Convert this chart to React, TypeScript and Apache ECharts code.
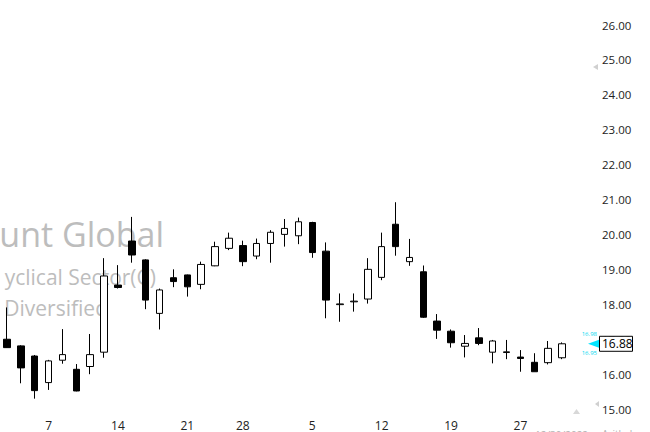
import React, { useEffect, useRef } from "react";
import * as echarts from "echarts";

// trading days shown, Nov 2 - Dec 30 2022
const dates = [
  "2022-11-02", "2022-11-03", "2022-11-04", "2022-11-07", "2022-11-08", "2022-11-09", "2022-11-10",
  "2022-11-11", "2022-11-14", "2022-11-15", "2022-11-16", "2022-11-17", "2022-11-18", "2022-11-21",
  "2022-11-22", "2022-11-23", "2022-11-25", "2022-11-28", "2022-11-29", "2022-11-30", "2022-12-01",
  "2022-12-02", "2022-12-05", "2022-12-06", "2022-12-07", "2022-12-08", "2022-12-09", "2022-12-12",
  "2022-12-13", "2022-12-14", "2022-12-15", "2022-12-16", "2022-12-19", "2022-12-20", "2022-12-21",
  "2022-12-22", "2022-12-23", "2022-12-27", "2022-12-28", "2022-12-29", "2022-12-30",
];

const opens = [
  17.01, 16.82, 16.53, 15.77, 16.41, 16.15, 16.23, 16.64, 18.56, 19.82, 19.28, 17.75, 18.77, 18.85,
  18.58, 19.11, 19.61, 19.69, 19.39, 19.75, 20.01, 19.97, 20.35, 19.53, 18.0, 18.08, 18.16, 18.78,
  20.3, 19.23, 18.94, 17.53, 17.24, 16.81, 17.05, 16.64, 16.63, 16.5, 16.35, 16.34, 16.48,
];
const highs = [
  17.92, 16.84, 16.56, 16.42, 17.3, 16.3, 17.16, 19.33, 19.13, 20.51, 19.3, 18.46, 19.01, 18.86,
  19.23, 19.8, 20.06, 19.83, 19.89, 20.13, 20.45, 20.49, 20.37, 19.78, 18.32, 18.32, 19.33, 20.06,
  20.93, 19.88, 19.12, 17.73, 17.29, 17.13, 17.33, 16.99, 16.99, 16.7, 16.61, 16.96, 16.92,
];
const lows = [
  16.76, 15.75, 15.31, 15.56, 16.31, 15.52, 16.01, 16.48, 18.46, 19.2, 17.87, 17.29, 18.5, 18.23,
  18.44, 19.1, 19.56, 19.1, 19.3, 19.2, 19.66, 19.73, 19.34, 17.61, 17.51, 17.8, 18.03, 18.7,
  19.4, 19.11, 17.62, 17.02, 16.77, 16.49, 16.84, 16.32, 16.44, 16.08, 16.08, 16.29, 16.44,
];
const closes = [
  16.77, 16.19, 15.54, 16.39, 16.57, 15.53, 16.57, 18.82, 18.49, 19.42, 18.13, 18.42, 18.66, 18.51,
  19.15, 19.66, 19.9, 19.23, 19.75, 20.07, 20.18, 20.37, 19.49, 18.13, 18.02, 18.1, 19.01, 19.66,
  19.66, 19.35, 17.64, 17.27, 16.91, 16.89, 16.89, 16.96, 16.65, 16.46, 16.08, 16.75, 16.88,
];

// dates that get a day-number label on the time axis
const tickDates = [
  "2022-11-07", "2022-11-14", "2022-11-21", "2022-11-28",
  "2022-12-05", "2022-12-12", "2022-12-19", "2022-12-27",
];

const watermark = ["unt Global", "yclical Sector(C)", "Diversified"];
const quoteHigh = "16.98";
const quoteLow = "16.95";

const FONT = "'Open Sans', sans-serif";

const App: React.FC = () => {
  const chartRef = useRef<HTMLDivElement>(null);

  useEffect(() => {
    if (!chartRef.current) return;
    const chart = echarts.init(chartRef.current, undefined, { renderer: "svg" });

    const candles = dates.map((_, i) => [opens[i], closes[i], lows[i], highs[i]]);
    const lastClose = closes[closes.length - 1];

    const option: echarts.EChartsOption = {
      animation: false,
      backgroundColor: "#ffffff",
      grid: { left: 0, right: 81, top: 25, bottom: 22.5 },
      xAxis: {
        type: "category",
        data: dates,
        boundaryGap: true,
        axisLine: { show: false },
        axisTick: { show: false },
        splitLine: { show: false },
        axisLabel: {
          interval: (_index: number, value: string) => tickDates.includes(value),
          formatter: (value: string) => String(Number(value.slice(8))),
          color: "#222",
          fontSize: 12,
          fontFamily: FONT,
          margin: 10,
        },
      },
      yAxis: {
        type: "value",
        position: "right",
        min: 15,
        max: 26,
        interval: 1,
        scale: true,
        axisLine: { show: false },
        axisTick: { show: false },
        splitLine: { show: false },
        axisLabel: {
          formatter: (v: number) => v.toFixed(2),
          color: "#222",
          fontSize: 11.5,
          fontFamily: FONT,
          margin: 33,
        },
      },
      series: [
        {
          type: "candlestick",
          data: candles,
          barWidth: 7,
          z: 5,
          itemStyle: {
            color: "#ffffff",
            color0: "#000000",
            borderColor: "#000000",
            borderColor0: "#000000",
            borderWidth: 1,
          },
        },
      ],
    };

    chart.setOption(option);

    const yLast = chart.convertToPixel({ yAxisIndex: 0 }, lastClose) as number;
    const grey = "#bdbdbd";

    chart.setOption({
      graphic: [
        {
          type: "text",
          z: -1,
          style: { text: watermark[0], x: 164, y: 234, align: "right", verticalAlign: "middle", fill: grey, font: `34px ${FONT}` },
        },
        {
          type: "text",
          z: -1,
          style: { text: watermark[1], x: 156, y: 277, align: "right", verticalAlign: "middle", fill: grey, font: `21px ${FONT}` },
        },
        {
          type: "text",
          z: -1,
          style: { text: watermark[2], x: 108, y: 307.5, align: "right", verticalAlign: "middle", fill: grey, font: `21px ${FONT}` },
        },
        // small scroll markers on the price scale
        { type: "polygon", z: 50, shape: { points: [[593, 67], [598, 64], [598, 70]] }, style: { fill: "#d0d0d0" } },
        { type: "polygon", z: 50, shape: { points: [[595, 404], [599, 401], [599, 407]] }, style: { fill: "#d0d0d0" } },
        { type: "polygon", z: 50, shape: { points: [[573, 414], [576.5, 409], [580, 414]] }, style: { fill: "#d8d8d8" } },
        // last price marker
        {
          type: "polygon",
          z: 50,
          shape: { points: [[588, yLast], [599, yLast - 4], [599, yLast + 4]] },
          style: { fill: "#00e5ff" },
        },
        {
          type: "rect",
          z: 60,
          shape: { x: 599.5, y: yLast - 7.5, width: 33, height: 15 },
          style: { fill: "#ffffff", stroke: "#000000", lineWidth: 1 },
        },
        {
          type: "text",
          z: 61,
          style: { text: lastClose.toFixed(2), x: 602, y: yLast, verticalAlign: "middle", fill: "#000", font: `12px ${FONT}` },
        },
        {
          type: "text",
          z: 61,
          style: { text: quoteHigh, x: 597, y: yLast - 10, align: "right", verticalAlign: "middle", fill: "#00d8f0", font: `6px ${FONT}` },
        },
        {
          type: "text",
          z: 61,
          style: { text: quoteLow, x: 597, y: yLast + 9, align: "right", verticalAlign: "middle", fill: "#00d8f0", font: `6px ${FONT}` },
        },
        // bottom status strip, mostly cut off
        {
          type: "text",
          z: 61,
          style: { text: "12/30/2022", x: 535, y: 430, verticalAlign: "top", fill: "#b0b0b0", font: `10px ${FONT}` },
        },
        {
          type: "text",
          z: 61,
          style: { text: "Arith  log", x: 602, y: 429, verticalAlign: "top", fill: "#b0b0b0", font: `10px ${FONT}` },
        },
      ],
    });

    return () => {
      chart.dispose();
    };
  }, []);

  return (
    <div
      ref={chartRef}
      style={{ position: "fixed", left: 0, top: 0, width: 650, height: 432, background: "#fff" }}
    />
  );
};

export default App;
